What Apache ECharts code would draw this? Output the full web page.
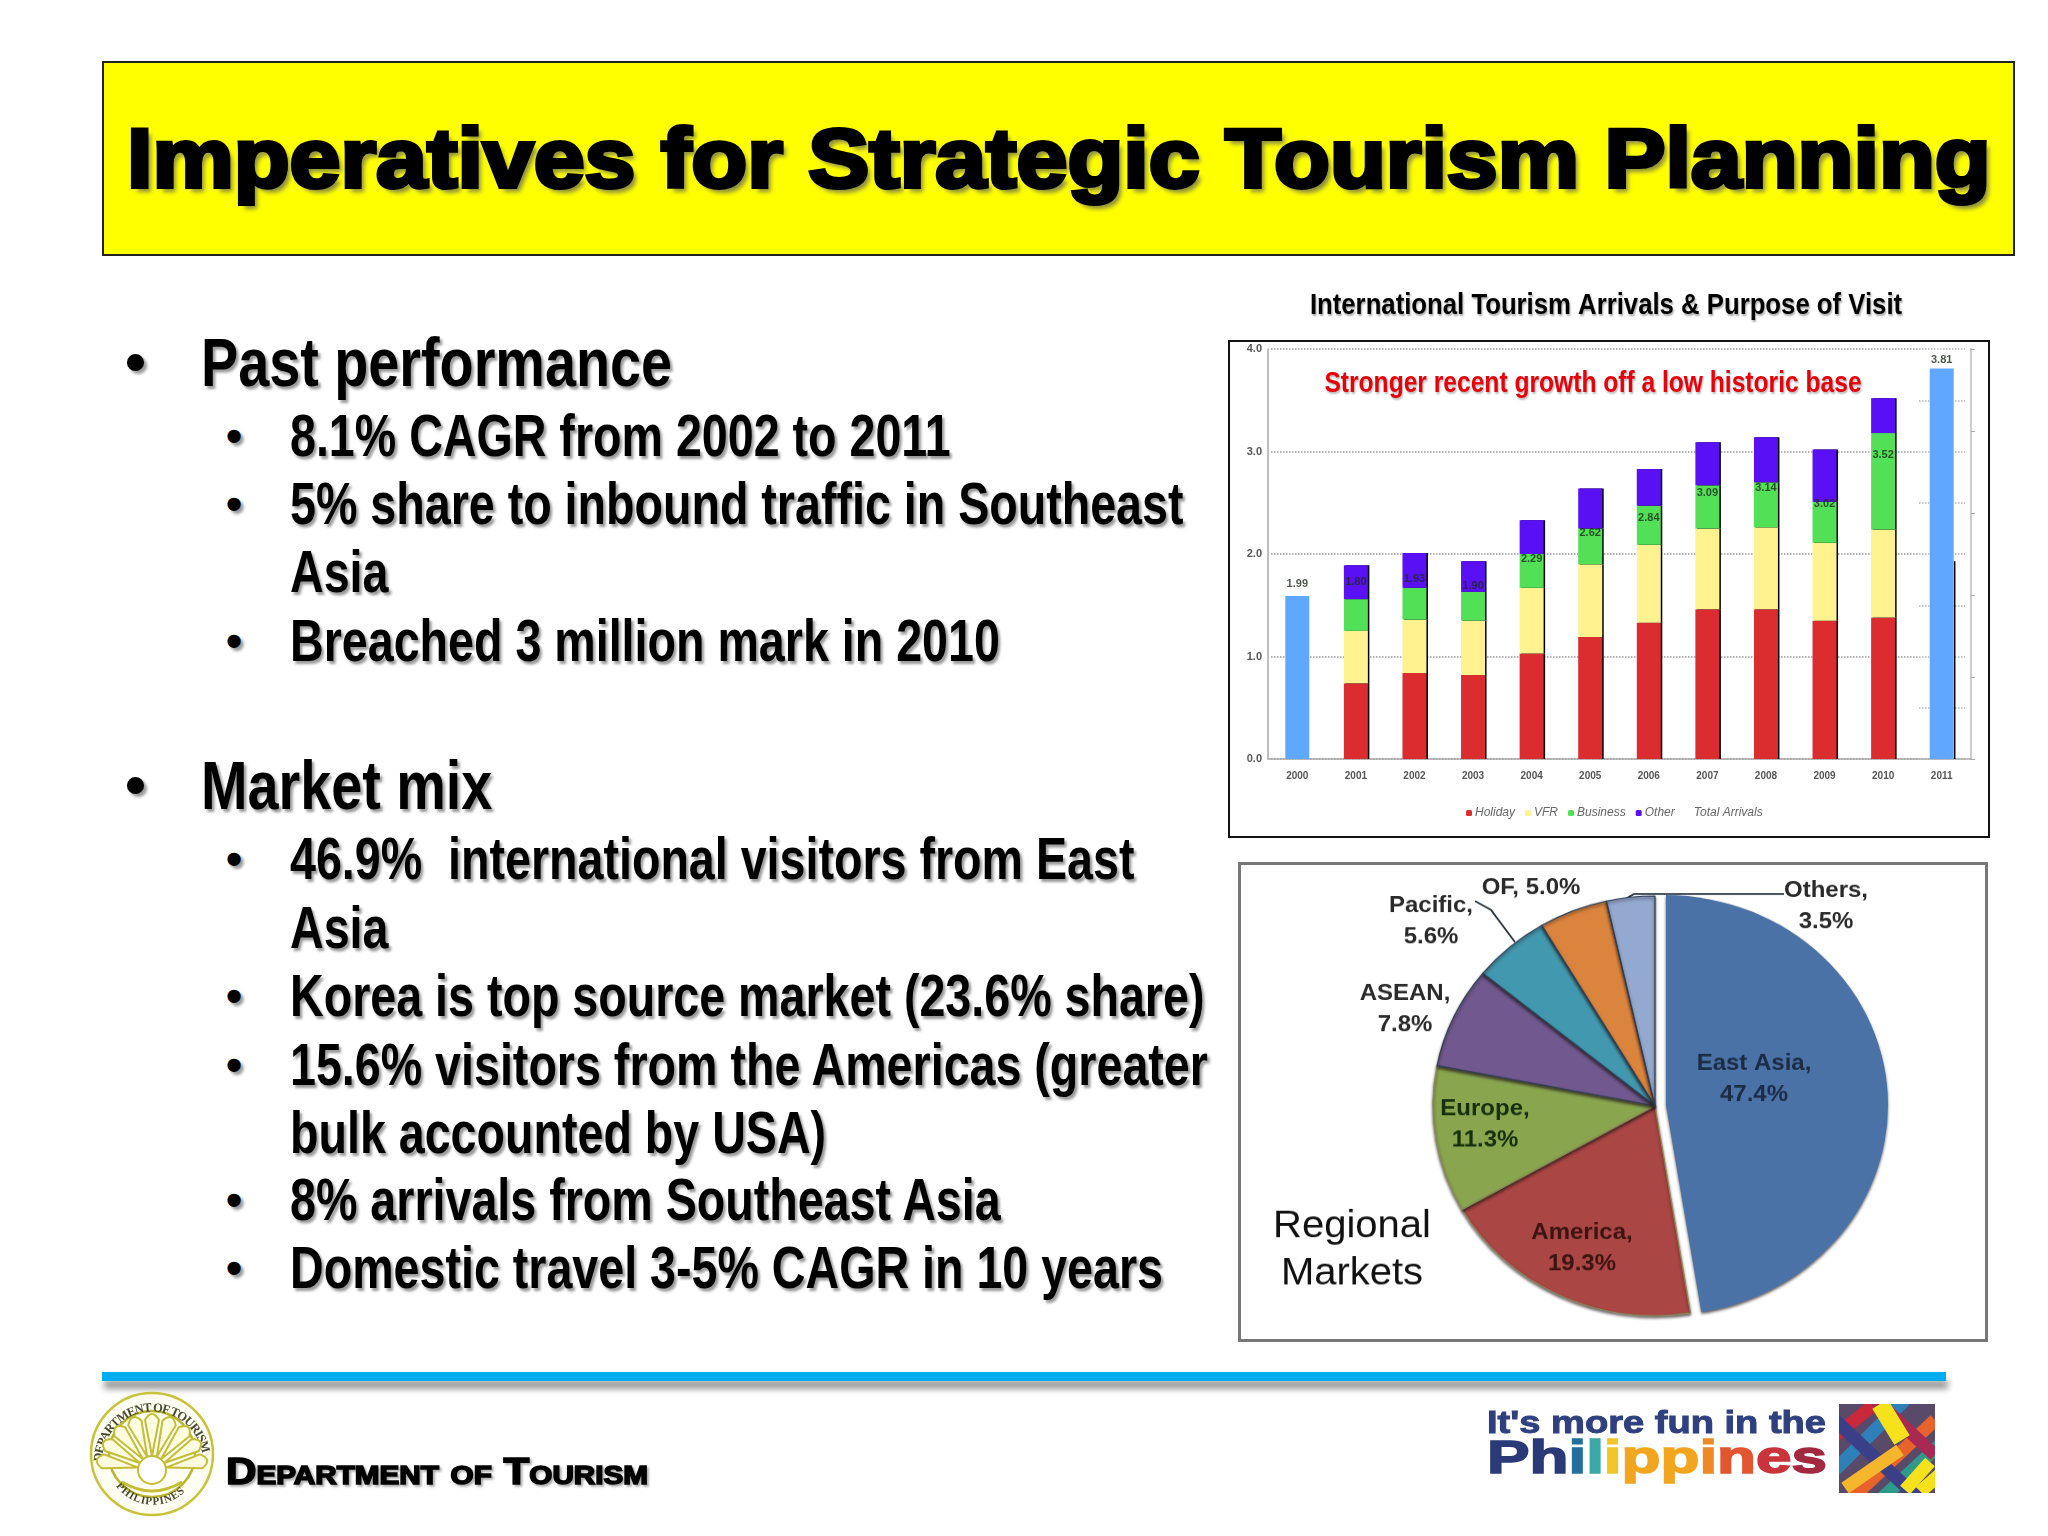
<!DOCTYPE html>
<html>
<head>
<meta charset="utf-8">
<title>Imperatives for Strategic Tourism Planning</title>
<script src="https://cdn.jsdelivr.net/npm/echarts@6/dist/echarts.min.js"></script>
<style>
html,body{margin:0;padding:0;background:#fff;}
#page{position:relative;width:2048px;height:1536px;overflow:hidden;background:#fff;font-family:"Liberation Sans",sans-serif;}
#titlebox{position:absolute;left:102px;top:61px;width:1909px;height:191px;background:#ff0;border:2px solid #222;}
#title{position:absolute;left:127px;top:108px;height:102px;font:bold 83px/102px "Liberation Sans",sans-serif;color:#000;-webkit-text-stroke:4px #000;text-shadow:4px 5px 4px #8f8f40;white-space:nowrap;transform:scaleX(1.102);transform-origin:0 50%;}
.l1,.l2,.b1,.b2{position:absolute;height:70px;line-height:70px;font-weight:bold;color:#000;white-space:nowrap;text-shadow:3px 3px 3px #9a9a9a;}
.l1{left:201px;font-size:68px;transform:scaleX(.82);transform-origin:0 50%;}
.l2{left:290px;font-size:59px;transform:scaleX(.79);transform-origin:0 50%;}
.b1{left:125px;font-size:60px;}
.b2{left:226px;font-size:46px;}
#barbox{position:absolute;left:1228px;top:340px;width:758px;height:494px;border:2px solid #111;}
#bar{position:absolute;left:1228px;top:280px;width:762px;height:560px;filter:blur(0.7px);}
#piebox{position:absolute;left:1238px;top:862px;width:744px;height:474px;border:3px solid #777;}
#pie{position:absolute;left:1238px;top:862px;width:750px;height:506px;transform:scaleY(0.945);transform-origin:0 0;filter:blur(0.6px);}
#rule{position:absolute;left:102px;top:1372px;width:1844px;height:9px;background:#00aeef;box-shadow:2px 8px 6px #999;}
#foot{position:absolute;left:0;top:1385px;width:2048px;height:151px;filter:blur(0.5px);}
</style>
</head>
<body>
<div id="page">
	<div id="titlebox"></div>
	<div id="title">Imperatives for Strategic Tourism Planning</div>

	<!-- left hand bullets -->
	<div class="b1" style="top:327px">•</div><div class="l1" style="top:327px">Past performance</div>
	<div class="b2" style="top:401px">•</div><div class="l2" style="top:401px">8.1% CAGR from 2002 to 2011</div>
	<div class="b2" style="top:469px">•</div><div class="l2" style="top:469px">5% share to inbound traffic in Southeast</div>
	<div class="l2" style="top:537px">Asia</div>
	<div class="b2" style="top:606px">•</div><div class="l2" style="top:606px">Breached 3 million mark in 2010</div>

	<div class="b1" style="top:750px">•</div><div class="l1" style="top:750px">Market mix</div>
	<div class="b2" style="top:824px">•</div><div class="l2" style="top:824px">46.9%&nbsp; international visitors from East</div>
	<div class="l2" style="top:893px">Asia</div>
	<div class="b2" style="top:961px">•</div><div class="l2" style="top:961px">Korea is top source market (23.6% share)</div>
	<div class="b2" style="top:1030px">•</div><div class="l2" style="top:1030px">15.6% visitors from the Americas (greater</div>
	<div class="l2" style="top:1098px">bulk accounted by USA)</div>
	<div class="b2" style="top:1165px">•</div><div class="l2" style="top:1165px">8% arrivals from Southeast Asia</div>
	<div class="b2" style="top:1233px">•</div><div class="l2" style="top:1233px">Domestic travel 3-5% CAGR in 10 years</div>

	<div id="barbox"></div>
	<div id="bar"></div>
	<div id="piebox"></div>
	<div id="pie"></div>

	<div id="rule"></div>
	<svg id="foot" viewBox="0 1385 2048 151" xmlns="http://www.w3.org/2000/svg">
		<defs>
			<path id="sealTop" d="M102 1462 A50 50 0 1 1 203 1462"/>
			<path id="sealBot" d="M116 1486 A46 46 0 0 0 190 1486"/>
			<clipPath id="mosaicClip"><rect x="1839" y="1404" width="96" height="89"/></clipPath>
		</defs>
		<!-- seal -->
		<g id="seal" fill="none">
			<circle cx="152" cy="1454" r="61" fill="#fffef2" stroke="#c9c23a" stroke-width="2.5"/>
			<circle cx="152" cy="1454" r="43" stroke="#b9b52c" stroke-width="2.5"/>
			<text font-family="Liberation Serif" font-weight="bold" font-size="12.5" fill="#4a4a30"><textPath href="#sealTop" textLength="150">DEPARTMENT OF TOURISM</textPath></text>
			<text font-family="Liberation Serif" font-weight="bold" font-size="11" fill="#4a4a30"><textPath href="#sealBot" textLength="78">PHILIPPINES</textPath></text>
		</g>
		<!-- tourism wordmark -->
		<text x="226" y="1484" font-family="Liberation Sans" font-weight="bold" font-size="37" stroke="#000" stroke-width="1.6" textLength="422" lengthAdjust="spacingAndGlyphs" style="font-variant:small-caps;filter:drop-shadow(2px 2px 1px #aaa)">Department of Tourism</text>
		<text x="1487" y="1433" font-family="Liberation Sans" font-weight="bold" font-size="32" fill="#2f4080" stroke="#2f4080" stroke-width="1" textLength="339" lengthAdjust="spacingAndGlyphs">It's more fun in the</text>
		<text x="1487" y="1473" font-family="Liberation Sans" font-weight="bold" font-size="46" stroke-width="1.6" textLength="340" lengthAdjust="spacingAndGlyphs"><tspan fill="#2a3a78" stroke="#2a3a78">Ph</tspan><tspan fill="#23709c" stroke="#23709c">i</tspan><tspan fill="#3aa9a8" stroke="#3aa9a8">l</tspan><tspan fill="#f1c629" stroke="#f1c629">i</tspan><tspan fill="#f2a51f" stroke="#f2a51f">pp</tspan><tspan fill="#ee8a25" stroke="#ee8a25">i</tspan><tspan fill="#e2552f" stroke="#e2552f">n</tspan><tspan fill="#c9343a" stroke="#c9343a">e</tspan><tspan fill="#a32a3e" stroke="#a32a3e">s</tspan></text>
		<!-- woven flag square -->
		<g clip-path="url(#mosaicClip)" stroke-width="13" stroke-linecap="butt">
			<rect x="1839" y="1404" width="96" height="89" fill="#5a4a6a" stroke="none"/>
			<path d="M1830 1440 L1880 1400" stroke="#c8283a"/>
			<path d="M1835 1470 L1905 1400" stroke="#2f7fb8"/>
			<path d="M1850 1500 L1935 1420" stroke="#e8622c"/>
			<path d="M1880 1500 L1945 1440" stroke="#2f9a8a"/>
			<path d="M1905 1505 L1945 1470" stroke="#f5e21c"/>
			<path d="M1875 1400 L1935 1455" stroke="#a82a52"/>
			<path d="M1835 1420 L1920 1500" stroke="#3a3f88"/>
			<path d="M1880 1404 L1902 1440" stroke="#f5e21c" stroke-width="18"/>
			<path d="M1845 1488 L1900 1450" stroke="#f6b62b"/>
			<path d="M1905 1490 L1930 1462" stroke="#f5e21c"/>
		</g>
	</svg>
</div>

<script type="text/javascript">
// bar chart values, millions of arrivals
var years = ['2000','2001','2002','2003','2004','2005','2006','2007','2008','2009','2010','2011'];
var holiday  = [null,0.74,0.84,0.82,1.03,1.19,1.33,1.46,1.46,1.35,1.38,null];
var vfr      = [null,0.51,0.52,0.53,0.64,0.71,0.76,0.79,0.80,0.76,0.86,null];
var business = [null,0.31,0.31,0.28,0.33,0.35,0.38,0.42,0.44,0.40,0.94,null];
var other    = [null,0.33,0.34,0.30,0.33,0.39,0.36,0.42,0.44,0.51,0.34,null];
var totalArrivals = [1.59,null,null,null,null,null,null,null,null,null,null,3.81];
var totalLabels = ['1.99','1.80','1.93','1.90','2.29','2.62','2.84','3.09','3.14','3.02','3.52','3.81'];
var totalLabelHeights = [1.71,1.73,1.76,1.69,1.95,2.21,2.35,2.60,2.64,2.49,2.97,3.89];

// pie chart values, percent share
var regions = ['East Asia','America','Europe','ASEAN','Pacific','OF','Others'];
var regionShare = [47.4,19.3,11.3,7.8,5.6,5.0,3.5];
var regionColors = ['#4a72a6','#aa4643','#89a54e','#71588f','#4198af','#db843d','#93a9cf'];

var sansFont = '"Liberation Sans",sans-serif';

// seal rays
(function(){
	var seal = document.getElementById('seal'), s = '';
	for (var a = -80; a <= 80; a += 20) {
		s += '<path transform="rotate(' + a + ' 152 1470)" d="M152 1456 L145 1420 Q152 1408 159 1420 Z" fill="#fffce0" stroke="#c4bd35" stroke-width="2"/>';
	}
	s += '<circle cx="152" cy="1470" r="14" fill="#fff" stroke="#c4bd35" stroke-width="2"/>';
	s += '<path d="M122 1482 Q152 1500 182 1482" stroke="#c4bd35" stroke-width="3" fill="none"/>';
	seal.insertAdjacentHTML('beforeend', s);
})();

function stackSeries(name, values, color){
	return {
		name: name, type: 'bar', stack: 'visits', barWidth: 24, data: values,
		itemStyle: {color: color, shadowColor: '#000', shadowOffsetX: 1.5, shadowBlur: 0}
	};
}

var barChart = echarts.init(document.getElementById('bar'));
barChart.setOption({
	animation: false,
	legend: {
		left: 233, top: 522, itemWidth: 6, itemHeight: 6, itemGap: 10,
		textStyle: {fontFamily: sansFont, fontStyle: 'italic', fontSize: 12, color: '#666', padding: [0,0,0,-2]},
		data: [
			{name: 'Holiday'},{name: 'VFR'},{name: 'Business'},{name: 'Other'},
			{name: 'Total Arrivals', itemStyle: {opacity: 0}}
		]
	},
	grid: [
		{left: 40, top: 69, width: 703, height: 410},
		{left: 43, top: 69, width: 648, height: 410},
		{left: 691, top: 69, width: 46, height: 410}
	],
	xAxis: [
		{type: 'category', data: years, gridIndex: 0,
			axisLine: {lineStyle: {color: '#aaa', width: 1.5}}, axisTick: {lineStyle: {color: '#aaa'}, length: 4},
			axisLabel: {fontFamily: sansFont, fontWeight: 'bold', fontSize: 10, color: '#555', margin: 12}},
		{type: 'value', gridIndex: 1, min: 0, max: 1, show: false},
		{type: 'value', gridIndex: 2, min: 0, max: 1, show: false}
	],
	yAxis: [
		{type: 'value', gridIndex: 0, min: 0, max: 4, interval: 1, z: 3,
			axisLine: {show: true, lineStyle: {color: '#aaa', width: 1.5}}, axisTick: {show: false},
			axisLabel: {fontFamily: sansFont, fontWeight: 'bold', fontSize: 11, color: '#555', margin: 6, formatter: function(v){ return v.toFixed(1); }},
			splitLine: {show: false}},
		{type: 'value', gridIndex: 0, position: 'right', min: 0, max: 4, interval: 0.8,
			axisLine: {show: true, lineStyle: {color: '#ccc', width: 2}}, axisTick: {show: true, length: 4, lineStyle: {color: '#aaa'}},
			axisLabel: {show: false}, splitLine: {show: false}},
		{type: 'value', gridIndex: 1, min: 0, max: 4, interval: 1, axisLabel: {show: false}, axisLine: {show: false}, axisTick: {show: false},
			splitLine: {lineStyle: {color: '#999', type: 'dotted', width: 1.5}}},
		{type: 'value', gridIndex: 2, min: 0, max: 4, interval: 0.5, axisLabel: {show: false}, axisLine: {show: false}, axisTick: {show: false},
			splitLine: {lineStyle: {color: '#b5b5b5', type: 'dotted', width: 1.5}}}
	],
	series: [
		stackSeries('Holiday', holiday, '#db2c30'),
		stackSeries('VFR', vfr, '#fff28f'),
		stackSeries('Business', business, '#52e056'),
		stackSeries('Other', other, '#5a10f5'),
		{name: 'Total Arrivals', type: 'bar', stack: 'visits', barWidth: 24, data: totalArrivals, itemStyle: {color: '#60a8ff'}},
		{type: 'scatter', symbolSize: 0, data: totalLabelHeights, z: 5, silent: true,
			label: {show: true, position: 'inside', fontFamily: sansFont, fontSize: 11, fontWeight: 'bold', color: '#1d2a1d',
				formatter: function(p){ return totalLabels[p.dataIndex]; }}}
	]
});
// dark edge down the lower half of the 2011 bar, plus the two condensed headings
var edgeTop = barChart.convertToPixel({xAxisIndex: 0, yAxisIndex: 0}, [11, 1.93]);
var edgeEnd = barChart.convertToPixel({xAxisIndex: 0, yAxisIndex: 0}, [11, 0]);
barChart.setOption({graphic: [
	{type: 'line', z: 10, shape: {x1: edgeTop[0] + 13, y1: edgeTop[1], x2: edgeEnd[0] + 13, y2: edgeEnd[1]}, style: {stroke: '#000', lineWidth: 1.5}},
	{type: 'text', z: 10, x: 378, y: 26, scaleX: 0.887, style: {text: 'International Tourism Arrivals & Purpose of Visit', font: 'bold 29px ' + sansFont, fill: '#000', textAlign: 'center', textVerticalAlign: 'middle', textShadowColor: '#aaa', textShadowBlur: 2, textShadowOffsetX: 1, textShadowOffsetY: 2}},
	{type: 'text', z: 10, x: 365, y: 104, scaleX: 0.82, style: {text: 'Stronger recent growth off a low historic base', font: 'bold 30px ' + sansFont, fill: '#e8000a', textAlign: 'center', textVerticalAlign: 'middle', textShadowColor: '#bbb', textShadowBlur: 2, textShadowOffsetX: 1, textShadowOffsetY: 2}}
]});

// label centres in page pixels, converted for the squeezed pie canvas
var pieScale = 0.945;
function pieX(x){ return x - 1238; }
function pieY(y){ return (y - 862) / pieScale; }
var labelSpots = [[1754,1079],[1582,1248],[1485,1125],[1405,1009],[1431,921],[1531,888],[1826,906]];
var labelInk = ['#1c2c44','#3c1412','#16300c','#2a2a2a','#2a2a2a','#2a2a2a','#2a2a2a'];
var leaderPoints = {
	4: [[1475,901],[1491,910],[1515,942]],
	6: [[1784,894],[1634,894],[1625,899]]
};
function regionLabel(i){
	var share = regionShare[i].toFixed(1) + '%';
	return i === 5 ? regions[i] + ', ' + share : regions[i] + ',\n' + share;
}

var pieChart = echarts.init(document.getElementById('pie'));
pieChart.setOption({
	animation: false,
	title: {
		text: 'Regional\nMarkets', left: 109, top: 356, textAlign: 'center',
		textStyle: {fontFamily: sansFont, fontSize: 40, fontWeight: 'normal', lineHeight: 50, color: '#111'}
	},
	// the pulled-out slice ignores labelLayout, so its label sits here
	graphic: [{type: 'text', z: 100, x: pieX(labelSpots[0][0]), y: pieY(labelSpots[0][1]),
		style: {text: regionLabel(0), font: 'bold 24px ' + sansFont, lineHeight: 33, fill: labelInk[0], textAlign: 'center', textVerticalAlign: 'middle'}}],
	series: [{
		type: 'pie', center: [417, 258], radius: [0, 222], startAngle: 90, clockwise: true,
		selectedMode: 'single', selectedOffset: 11,
		data: regions.map(function(name, i){
			var outside = i >= 3;
			return {
				name: name, value: regionShare[i], selected: i === 0,
				itemStyle: {color: regionColors[i], borderColor: i === 0 ? '#fff' : (i === 1 || i === 2 ? '#8f8a5a' : '#2d4058'), borderWidth: i === 0 ? 0 : 1.2,
					shadowColor: 'rgba(40,30,30,0.7)', shadowBlur: 3, shadowOffsetY: 2},
				label: {show: i !== 0, position: outside ? 'outside' : 'inside', color: labelInk[i]},
				labelLine: {show: i === 4 || i === 6, lineStyle: {color: '#22303c', width: 1.8}}
			};
		}),
		label: {
			show: true, fontFamily: sansFont, fontWeight: 'bold', fontSize: 24, lineHeight: 33, align: 'center',
			formatter: function(p){ return regionLabel(p.dataIndex); }
		},
		labelLayout: function(p){
			var spot = labelSpots[p.dataIndex], out = {x: pieX(spot[0]), y: pieY(spot[1]), align: 'center', verticalAlign: 'middle'};
			var pts = leaderPoints[p.dataIndex];
			if (pts) { out.labelLinePoints = pts.map(function(q){ return [pieX(q[0]), pieY(q[1])]; }); }
			return out;
		}
	}]
});
</script>
</body>
</html>
